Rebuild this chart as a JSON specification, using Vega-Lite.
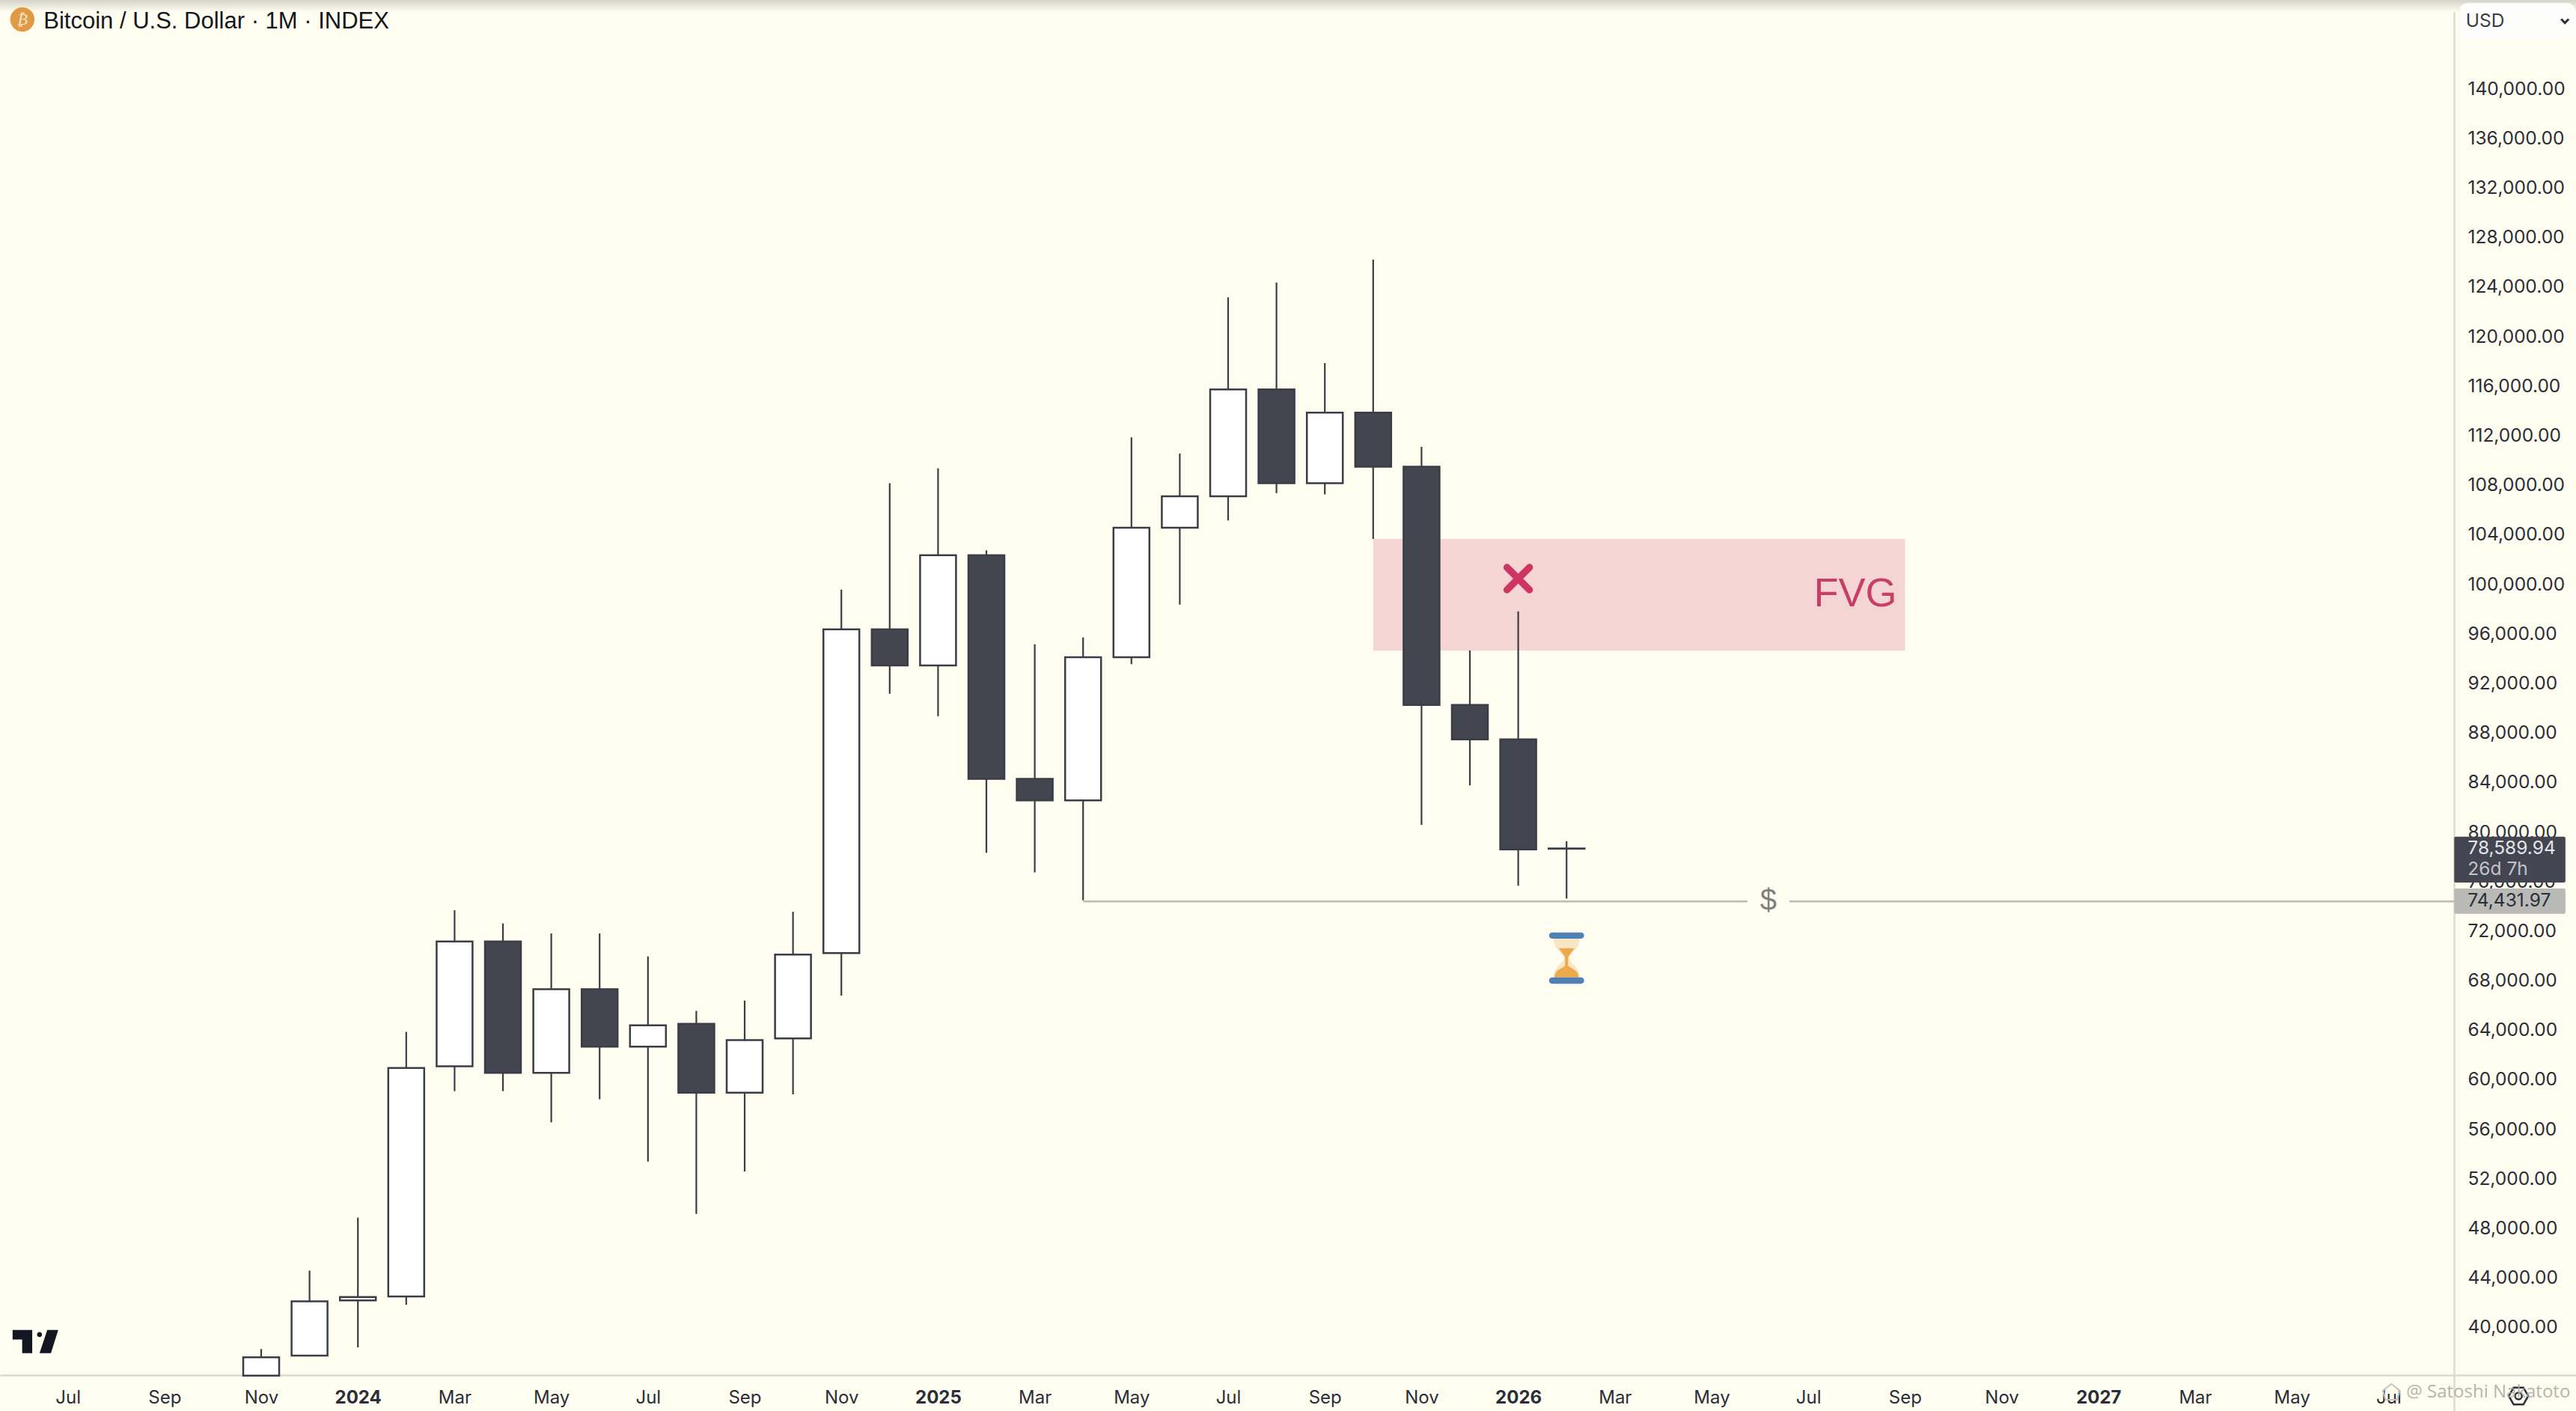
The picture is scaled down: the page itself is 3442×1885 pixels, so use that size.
{
"$schema":"https://vega.github.io/schema/vega-lite/v6.json",
"width":3442,"height":1885,"padding":0,"autosize":{"type":"none"},
"background":"#fffdf0",
"config":{"view":{"stroke":null}},
"datasets":{"candles":[
{"month":"2023-11","i":-2,"open":36054,"high":38196,"low":36054,"close":37533},
{"month":"2023-12","i":-1,"open":37666,"high":44530,"low":37600,"close":42044},
{"month":"2024-01","i":0,"open":42130,"high":48808,"low":38330,"close":42400},
{"month":"2024-02","i":1,"open":42440,"high":63800,"low":41780,"close":60883},
{"month":"2024-03","i":2,"open":61020,"high":73620,"low":59020,"close":71100},
{"month":"2024-04","i":3,"open":71100,"high":72560,"low":59020,"close":60490},
{"month":"2024-05","i":4,"open":60490,"high":71750,"low":56500,"close":67250},
{"month":"2024-06","i":5,"open":67250,"high":71750,"low":58360,"close":62610},
{"month":"2024-07","i":6,"open":62610,"high":69900,"low":53330,"close":64330},
{"month":"2024-08","i":7,"open":64460,"high":65500,"low":49100,"close":58890},
{"month":"2024-09","i":8,"open":58890,"high":66330,"low":52530,"close":63140},
{"month":"2024-10","i":9,"open":63270,"high":73500,"low":58760,"close":70040},
{"month":"2024-11","i":10,"open":70170,"high":99500,"low":66730,"close":96300},
{"month":"2024-12","i":11,"open":96300,"high":108100,"low":91100,"close":93380},
{"month":"2025-01","i":12,"open":93380,"high":109300,"low":89300,"close":102290},
{"month":"2025-02","i":13,"open":102290,"high":102680,"low":78260,"close":84230},
{"month":"2025-03","i":14,"open":84230,"high":95100,"low":76670,"close":82500},
{"month":"2025-04","i":15,"open":82500,"high":95650,"low":74430,"close":94050},
{"month":"2025-05","i":16,"open":94050,"high":111800,"low":93500,"close":104500},
{"month":"2025-06","i":17,"open":104500,"high":110500,"low":98300,"close":107050},
{"month":"2025-07","i":18,"open":107050,"high":123100,"low":105100,"close":115670},
{"month":"2025-08","i":19,"open":115670,"high":124300,"low":107300,"close":108100},
{"month":"2025-09","i":20,"open":108100,"high":117800,"low":107200,"close":113800},
{"month":"2025-10","i":21,"open":113800,"high":126150,"low":103600,"close":109430},
{"month":"2025-11","i":22,"open":109430,"high":111030,"low":80520,"close":90200},
{"month":"2025-12","i":23,"open":90200,"high":94600,"low":83700,"close":87420},
{"month":"2026-01","i":24,"open":87420,"high":97760,"low":75600,"close":78530},
{"month":"2026-02","i":25,"open":78610,"high":79200,"low":74570,"close":78589.94}
]},
"encoding":{
"x":{"field":"i","type":"quantitative","title":null,
 "scale":{"domain":[-7.4025,45.879],"range":[0,3442],"nice":false,"zero":false,"padding":0},
 "axis":{"orient":"bottom","offset":-48,"values":[-6,-4,-2,0,2,4,6,8,10,12,14,16,18,20,22,24,26,28,30,32,34,36,38,40,42],
  "labelExpr":"datum.value%12==0 ? toString(2024+datum.value/12) : ['Jan','Feb','Mar','Apr','May','Jun','Jul','Aug','Sep','Oct','Nov','Dec'][(datum.value%12+12)%12]",
  "labelFontWeight":{"condition":{"test":"datum.value%12==0","value":"bold"},"value":"normal"},
  "labelFont":"Inter","labelFontSize":24,"labelColor":"#2a2e39","labelPadding":18,"labelOverlap":false,"labelFlush":false,"labelBound":false,
  "ticks":false,"grid":false,"domainColor":"#dcdacb","domainWidth":2.5}},
"y":{"field":"price","type":"quantitative","title":null,
 "scale":{"domain":[33195,147113],"range":[1885,0],"nice":false,"zero":false,"padding":0},
 "axis":{"orient":"right","offset":-163,"values":[40000,44000,48000,52000,56000,60000,64000,68000,72000,76000,80000,84000,88000,92000,96000,100000,104000,108000,112000,116000,120000,124000,128000,132000,136000,140000],
  "format":",.2f","labelFont":"Inter","labelFontSize":24.5,"labelColor":"#2a2e39","labelPadding":18,"labelOffset":1.5,"labelOverlap":false,"labelFlush":false,"labelBound":false,
  "ticks":false,"grid":false,"domainColor":"#dcdacb","domainWidth":2.5}}
},
"layer":[
{"data":{"values":[{"label":"FVG","i":21,"i2":32,"price":103600,"price2":94595}]},
 "mark":{"type":"rect","fill":"#f5d4d4"},
 "encoding":{"x2":{"field":"i2"},"y2":{"field":"price2"}}},
{"data":{"values":[{"label":"$ segment","i":15,"i2":28.74,"price":74340},{"label":"$ segment","i":29.61,"i2":43.36,"price":74340}]},
 "mark":{"type":"rule","stroke":"#bcbcae","strokeWidth":2.5},
 "encoding":{"x2":{"field":"i2"}}},
{"data":{"name":"candles"},
 "mark":{"type":"rule","stroke":"#3a3d46","strokeWidth":2.2},
 "encoding":{"y":{"field":"high","type":"quantitative","title":null},"y2":{"field":"low"}}},
{"data":{"name":"candles"},
 "mark":{"type":"bar","size":48,"orient":"vertical","stroke":"#3a3d46","strokeWidth":2.5},
 "encoding":{"y":{"field":"open","type":"quantitative","title":null},"y2":{"field":"close"},
  "fill":{"condition":{"test":"datum.close>=datum.open","value":"#ffffff"},"value":"#43464f"}}},
{"data":{"values":[{"i":24,"price":100397}]},
 "mark":{"type":"point","shape":"M-1,-1L1,1M-1,1L1,-1","size":900,"filled":false,"stroke":"#cf3562","strokeWidth":9.5,"strokeCap":"round","opacity":1}},
{"data":{"values":[{"t":"FVG","i":31.83,"price":99150}]},
 "mark":{"type":"text","align":"right","baseline":"middle","font":"Liberation Sans","fontSize":54,"fill":"#c63f68"},
 "encoding":{"text":{"field":"t"}}},
{"data":{"values":[{"t":"$","i":29.175,"price":74340}]},
 "mark":{"type":"text","align":"center","baseline":"middle","font":"Liberation Sans","fontSize":40,"fill":"#7d807c"},
 "encoding":{"text":{"field":"t"}}},
{"data":{"values":[{"i":25,"price":69760}]},
 "mark":{"type":"point","shape":"M-.5,-.74H.5C.5,-.3 .1,-.2 .1,0C.1,.2 .5,.3 .5,.74H-.5C-.5,.3 -.1,.2 -.1,0C-.1,-.2 -.5,-.3 -.5,-.74Z","size":4900,"filled":true,"fill":"#f8e7c4","strokeWidth":0,"opacity":1}},
{"data":{"values":[{"i":25,"price":69760}]},
 "mark":{"type":"point","shape":"M-.3,-.38H.3L.06,-.05V.3C.2,.4 .45,.45 .46,.74H-.46C-.45,.45 -.2,.4 -.06,.3V-.05Z","size":4900,"filled":true,"fill":"#eda94b","strokeWidth":0,"opacity":1}},
{"data":{"values":[{"i":25,"price":69760}]},
 "mark":{"type":"point","shape":"M-.55,-.98H.55A.12,.12 0 0 1 .55,-.74H-.55A.12,.12 0 0 1 -.55,-.98ZM-.55,.74H.55A.12,.12 0 0 1 .55,.98H-.55A.12,.12 0 0 1 -.55,.74Z","size":4900,"filled":true,"fill":"#4f81b5","strokeWidth":0,"opacity":1}},
{"data":{"values":[{"i":43.36,"i2":45.66,"price":79565,"price2":75860}]},
 "mark":{"type":"rect","fill":"#434651","cornerRadius":2},
 "encoding":{"x2":{"field":"i2"},"y2":{"field":"price2"}}},
{"data":{"values":[{"i":43.36,"i2":45.66,"price":75378,"price2":73340}]},
 "mark":{"type":"rect","fill":"#b9b9b5","cornerRadius":2},
 "encoding":{"x2":{"field":"i2"},"y2":{"field":"price2"}}},
{"data":{"values":[{"t":"78,589.94","i":43.64,"price":78560}]},
 "mark":{"type":"text","align":"left","baseline":"middle","font":"Inter","fontSize":24.5,"fill":"#e4e5e8"},
 "encoding":{"text":{"field":"t"}}},
{"data":{"values":[{"t":"26d 7h","i":43.64,"price":76870}]},
 "mark":{"type":"text","align":"left","baseline":"middle","font":"Inter","fontSize":24.5,"fill":"#c3c4c8"},
 "encoding":{"text":{"field":"t"}}},
{"data":{"values":[{"t":"74,431.97","i":43.64,"price":74330}]},
 "mark":{"type":"text","align":"left","baseline":"middle","font":"Inter","fontSize":24.5,"fill":"#2a2e39"},
 "encoding":{"text":{"field":"t"}}},
{"data":{"values":[{"i":-7.4025,"i2":45.879,"price":147113,"price2":146146}]},
 "mark":{"type":"rect","fill":{"gradient":"linear","x1":0,"y1":0,"x2":0,"y2":1,"stops":[{"offset":0,"color":"#d6d4ca"},{"offset":1,"color":"#fffdf0"}]}},
 "encoding":{"x2":{"field":"i2"},"y2":{"field":"price2"}}},
{"data":{"values":[{"i":43.48,"i2":45.85,"price":146871,"price2":143970}]},
 "mark":{"type":"rect","fill":"#fdfdfc","cornerRadius":10},
 "encoding":{"x2":{"field":"i2"},"y2":{"field":"price2"}}},
{"data":{"values":[{"t":"USD","i":43.6,"price":145350}]},
 "mark":{"type":"text","align":"left","baseline":"middle","font":"Inter","fontSize":24.5,"fill":"#3a3d46"},
 "encoding":{"text":{"field":"t"}}},
{"data":{"values":[{"i":45.65,"price":145420}]},
 "mark":{"type":"point","shape":"M-1,-.5L0,.5L1,-.5","size":100,"filled":false,"stroke":"#2a2e39","strokeWidth":3,"opacity":1}},
{"data":{"values":[{"i":-6.94,"price":145540}]},
 "mark":{"type":"point","shape":"circle","size":1050,"filled":true,"fill":"#e09a45","strokeWidth":0,"opacity":1}},
{"data":{"values":[{"t":"₿","i":-6.94,"price":145540}]},
 "mark":{"type":"text","align":"center","baseline":"middle","font":"DejaVu Sans","fontStyle":"italic","fontSize":22,"fill":"#f5e2c8"},
 "encoding":{"text":{"field":"t"}}},
{"data":{"values":[{"t":"Bitcoin / U.S. Dollar · 1M · INDEX","i":-6.5,"price":145380}]},
 "mark":{"type":"text","align":"left","baseline":"middle","font":"Liberation Sans","fontSize":31,"fill":"#131722"},
 "encoding":{"text":{"field":"t"}}},
{"data":{"values":[{"i":-6.67,"price":38800}]},
 "mark":{"type":"point","shape":"M-1,-.508H-.14V.508H-.58V-.09H-1ZM.07,-.305A.11,.11 0 1 0 .29,-.305A.11,.11 0 1 0 .07,-.305ZM.52,-.508H1L.68,.508H.18Z","size":3721,"filled":true,"fill":"#131722","strokeWidth":0,"opacity":1}},
{"data":{"values":[{"i":44.69,"price":34405}]},
 "mark":{"type":"point","shape":"M-1,0L-.5,-.87L.5,-.87L1,0L.5,.87L-.5,.87ZM.35,0A.35,.35 0 1 0 -.35,0A.35,.35 0 1 0 .35,0Z","size":676,"filled":false,"stroke":"#2a2e39","strokeWidth":2.5,"opacity":1}},
{"data":{"values":[{"i":42.06,"price":34710}]},
 "mark":{"type":"point","shape":"M0,-1L1,-.2L.7,.9H-.7L-1,-.2Z","size":500,"filled":false,"stroke":"#c4c4bd","strokeWidth":2,"opacity":1}},
{"data":{"values":[{"t":"@ Satoshi Nakatoto","i":42.37,"price":34710}]},
 "mark":{"type":"text","align":"left","baseline":"middle","font":"Open Sans","fontSize":24,"fill":"#a9a9a4","opacity":0.85},
 "encoding":{"text":{"field":"t"}}}
]}
